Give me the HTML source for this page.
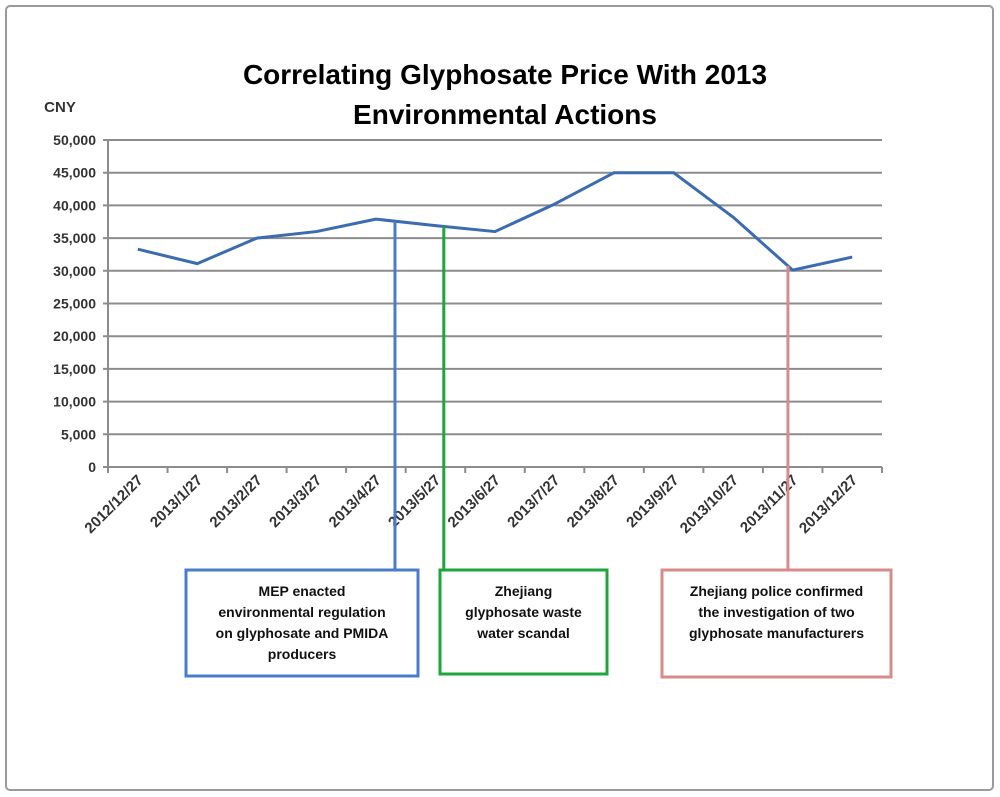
<!DOCTYPE html>
<html><head><meta charset="utf-8"><style>
html,body{margin:0;padding:0;background:#fff;}
svg{display:block;font-family:"Liberation Sans",sans-serif;}
</style></head><body>
<svg id="chart" width="1000" height="797" viewBox="0 0 1000 797">
<rect x="6" y="6" width="987" height="784" rx="4" fill="#fff" stroke="#9a9a9a" stroke-width="2"/>
<text x="505" y="84" text-anchor="middle" font-size="28" font-weight="bold" fill="#000">Correlating Glyphosate Price With 2013</text>
<text x="505" y="124" text-anchor="middle" font-size="28" font-weight="bold" fill="#000">Environmental Actions</text>
<text x="60" y="112" text-anchor="middle" font-size="15" font-weight="bold" fill="#333">CNY</text>
<g id="grid"></g><g id="yticks"></g><g id="xticks"></g><g id="series"></g><g id="notes"></g>
</svg>
<script>
const categories=["2012/12/27","2013/1/27","2013/2/27","2013/3/27","2013/4/27","2013/5/27","2013/6/27","2013/7/27","2013/8/27","2013/9/27","2013/10/27","2013/11/27","2013/12/27"];
const prices=[33300,31100,35000,36000,37900,36900,36000,40200,45000,45000,38200,30100,32100];
const yTicks=[0,5000,10000,15000,20000,25000,30000,35000,40000,45000,50000];
const yTickLabels=["0","5,000","10,000","15,000","20,000","25,000","30,000","35,000","40,000","45,000","50,000"];
const noteTexts=[["MEP enacted","environmental regulation","on glyphosate and PMIDA","producers"],["Zhejiang","glyphosate waste","water scandal"],["Zhejiang police confirmed","the investigation of two","glyphosate manufacturers"]];
const noteIndex=[4.32,5.14,10.92];
const noteColors=["#4a7cc9","#1ea53c","#d98a8a"];
const NS="http://www.w3.org/2000/svg";
const X0=108,X1=882,Y0=467,Y1=140,YMAX=50000;
const band=(X1-X0)/categories.length;
const xPos=i=>X0+band*(i+0.5);
const yPos=v=>Y0-(v/YMAX)*(Y0-Y1);
function mk(tag,attrs,parent){const e=document.createElementNS(NS,tag);for(const k in attrs)e.setAttribute(k,attrs[k]);parent.appendChild(e);return e;}
const grid=document.getElementById('grid'),yt=document.getElementById('yticks'),xt=document.getElementById('xticks');
yTicks.forEach((v,i)=>{
 const l=mk('line',{x1:X0-5,x2:X1,y1:yPos(v),y2:yPos(v),stroke:'#8c8c8c','stroke-width':2},grid);
 
 
 const t=mk('text',{x:X0-12,y:yPos(v)+5,'text-anchor':'end','font-size':14,'font-weight':'bold',fill:'#333'},yt);
 t.textContent=yTickLabels[i];
 
 
});
const ya=mk('line',{x1:X0,x2:X0,y1:Y1,y2:Y0,stroke:'#8c8c8c','stroke-width':2},grid);


for(let i=0;i<=categories.length;i++){
 const tk=mk('line',{x1:X0+band*i,x2:X0+band*i,y1:Y0,y2:Y0+6,stroke:'#8c8c8c','stroke-width':2},grid);
 
 
}
categories.forEach((c,i)=>{
 const x=xPos(i)+6,y=Y0+14;
 const t=mk('text',{x:x,y:y,'text-anchor':'end','font-size':15,'font-weight':'bold',fill:'#333',transform:`rotate(-45 ${x} ${y})`},xt);
 t.textContent=c;
 
 
});
const notes=document.getElementById('notes');
const boxes=[[186,570,232,106],[440,570,167,104],[662,570,229,107]];
noteIndex.forEach((ni,k)=>{
 const x=X0+band*(ni+0.5);
 const i0=Math.floor(ni),f=ni-i0;
 const v=prices[i0]+(prices[Math.min(i0+1,prices.length-1)]-prices[i0])*f;
 const ln=mk('line',{x1:x,x2:x,y1:yPos(v),y2:boxes[k][1],stroke:noteColors[k],'stroke-width':3},notes);
 
 
 const [bx,by,bw,bh]=boxes[k];
 const r=mk('rect',{x:bx,y:by,width:bw,height:bh,fill:'#fff',stroke:noteColors[k],'stroke-width':3},notes);
 
 
 noteTexts[k].forEach((s,j)=>{
  const t=mk('text',{x:bx+bw/2,y:by+26+j*21,'text-anchor':'middle','font-size':14,'font-weight':'bold',fill:'#111'},notes);
  t.textContent=s;
  
  
 });
});
const pts=prices.map((v,i)=>xPos(i)+','+yPos(v)).join(' ');
const pl=mk('polyline',{points:pts,fill:'none',stroke:'#3b6bb0','stroke-width':3,'stroke-linejoin':'round'},document.getElementById('series'));


</script>
</body></html>
